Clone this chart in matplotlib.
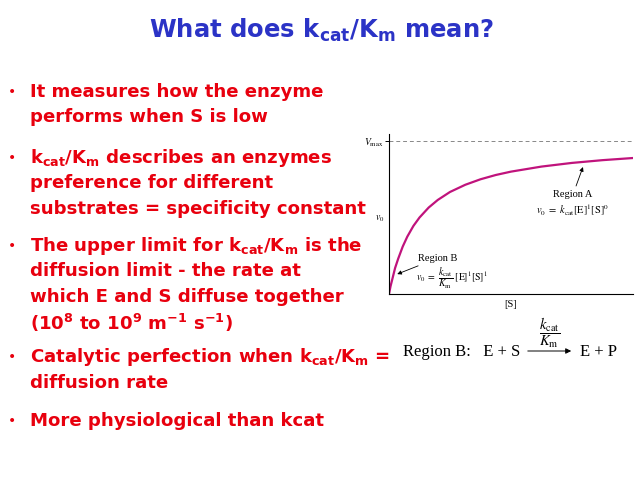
import matplotlib
matplotlib.use("Agg")
import matplotlib.pyplot as plt

plt.rcParams['mathtext.fontset'] = 'custom'
plt.rcParams['mathtext.rm'] = 'DejaVu Sans:bold'
plt.rcParams['mathtext.it'] = 'DejaVu Sans:bold'
plt.rcParams['mathtext.bf'] = 'DejaVu Sans:bold'

# Michaelis-Menten curve ([S] in units of Km, v0 in units of Vmax)
s_vals = [0, 0.05, 0.1, 0.2, 0.3, 0.45, 0.6, 0.8, 1.0, 1.3, 1.6, 2.0, 2.5, 3.0, 3.5, 4.0, 5.0, 6.0, 7.0, 8.0]
v_vals = [0, 0.05, 0.09, 0.17, 0.23, 0.31, 0.375, 0.445, 0.5, 0.565, 0.615, 0.667, 0.714, 0.75,
          0.778, 0.8, 0.833, 0.857, 0.875, 0.889]
vmax = 1.0

title = r'What does k$_{\rm cat}$/K$_{\rm m}$ mean?'
bullets = [
    ["It measures how the enzyme", "performs when S is low"],
    [r"k$_{\rm cat}$/K$_{\rm m}$ describes an enzymes", "preference for different",
     "substrates = specificity constant"],
    [r"The upper limit for k$_{\rm cat}$/K$_{\rm m}$ is the", "diffusion limit - the rate at",
     "which E and S diffuse together", r"(10$^{8}$ to 10$^{9}$ m$^{-1}$ s$^{-1}$)"],
    [r"Catalytic perfection when k$_{\rm cat}$/K$_{\rm m}$ =", "diffusion rate"],
    ["More physiological than kcat"],
]
bullet_y = [92, 158, 246, 357, 421]

W, H = 638, 478
fig = plt.figure(figsize=(W / 100, H / 100), dpi=100)
fig.patch.set_facecolor('white')

def px(x, y):
    return x / W, 1 - y / H

red = '#e8000e'
blue = '#2b33c6'

fig.text(*px(322, 30), title, ha='center', va='center', color=blue,
         fontsize=17.5, fontweight='bold', family='DejaVu Sans', math_fontfamily='custom')

for lines, y0 in zip(bullets, bullet_y):
    fig.text(*px(8, y0), u'\u2022', ha='left', va='center', color=red, fontsize=10)
    for i, line in enumerate(lines):
        fig.text(*px(30, y0 + i * 25.5), line, ha='left', va='center', color=red,
                 fontsize=13.1, fontweight='bold', family='DejaVu Sans', math_fontfamily='custom')

# the Michaelis-Menten plot
ax = fig.add_axes([389 / W, (H - 294) / H, (633 - 389) / W, (294 - 134) / H])
ax.plot(s_vals, v_vals, color='#c0137c', lw=1.6)
ax.axhline(vmax, color='#888888', lw=0.7, ls=(0, (4, 3)))
ax.set_xlim(0, s_vals[-1])
ax.set_ylim(0, 1.046)
for side in ['top', 'right']:
    ax.spines[side].set_visible(False)
for side in ['left', 'bottom']:
    ax.spines[side].set_linewidth(0.8)
ax.set_xticks([])
ax.set_yticks([vmax])
ax.set_yticklabels([r'$V_{\rm max}$'], fontsize=7, family='Liberation Serif')
for t in ax.get_yticklabels():
    t.set_math_fontfamily('stix')
ax.tick_params(axis='y', length=3, width=0.7, pad=1)
ax.set_xlabel('[S]', fontsize=7.5, family='Liberation Serif', labelpad=4)
ax.text(-0.02, 0.47, r'$v_0$', transform=ax.transAxes, ha='right', va='center',
        fontsize=7, math_fontfamily='stix')

serif = dict(family='Liberation Serif', math_fontfamily='stix')
ax.annotate('Region A', xy=(6.36, 0.83), xytext=(6.03, 0.65), ha='center', va='center',
            fontsize=7.5, arrowprops=dict(arrowstyle='-|>', color='black', lw=0.6,
                                          mutation_scale=6, shrinkA=1, shrinkB=0), **serif)
ax.text(6.03, 0.555, r'$v_0\ =\ k_{\rm cat}[{\rm E}]^1[{\rm S}]^0$', ha='center', va='center',
        fontsize=7.5, **serif)
ax.annotate('Region B', xy=(0.27, 0.13), xytext=(1.6, 0.235), ha='center', va='center',
            fontsize=7.5, arrowprops=dict(arrowstyle='-|>', color='black', lw=0.6,
                                          mutation_scale=6, shrinkA=1, shrinkB=0), **serif)
ax.text(0.9, 0.1, r'$v_0\ =\ \dfrac{k_{\rm cat}}{K_{\rm m}}\ [{\rm E}]^1[{\rm S}]^1$', ha='left',
        va='center', fontsize=7, **serif)

# reaction scheme under the plot
fig.text(*px(403, 352), 'Region B:   E + S', ha='left', va='center', fontsize=12, **serif)
fig.text(*px(580, 352), 'E + P', ha='left', va='center', fontsize=12, **serif)
fig.text(*px(550, 333), r'$\dfrac{k_{\rm cat}}{K_{\rm m}}$', ha='center', va='center',
         fontsize=10.5, **serif)
fig.add_artist(matplotlib.patches.FancyArrowPatch(px(525, 351), px(574, 351),
               transform=fig.transFigure, arrowstyle='-|>', mutation_scale=8,
               color='black', lw=0.7))

fig.savefig('out.png', dpi=100, facecolor='white')
